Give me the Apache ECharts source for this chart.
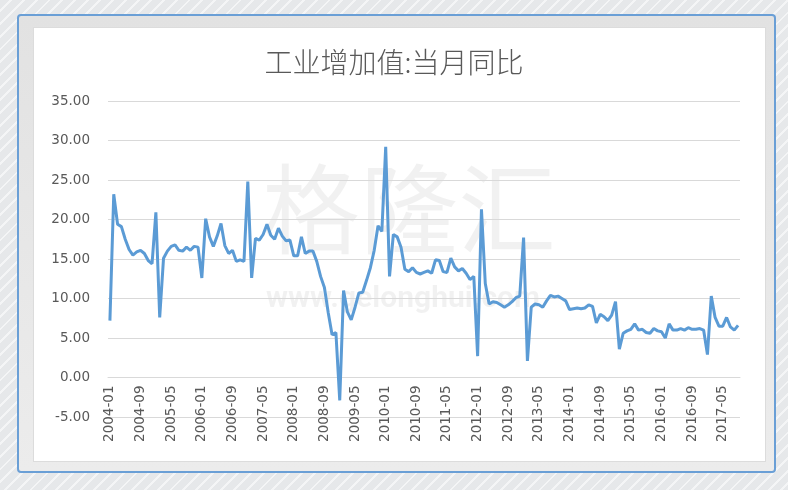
<!DOCTYPE html>
<html>
<head>
<meta charset="utf-8">
<script src="https://cdn.jsdelivr.net/npm/echarts@6/dist/echarts.min.js"></script>
<style>
  html, body { margin: 0; padding: 0; }
  body {
    width: 788px; height: 490px; position: relative; overflow: hidden;
    background: repeating-linear-gradient(135deg, #e6e8ea 0px, #e6e8ea 7px, #f4f5f6 7px, #f4f5f6 9px);
  }
  .frame {
    position: absolute; left: 17px; top: 14px; width: 755px; height: 455px;
    border: 2px solid #6a9fd6; border-radius: 4px;
    background: linear-gradient(#e2e2e2, #ececec);
  }
  .inner {
    position: absolute; left: 33px; top: 27px; width: 733px; height: 435px;
    background: #fff; border: 1px solid #dcdcdc; box-sizing: border-box;
  }
  #chart { position: absolute; left: 0; top: 0; width: 788px; height: 490px; }
</style>
</head>
<body>
<div class="frame"></div>
<div class="inner"></div>
<div id="chart"></div>
<script>
// monthly yoy values, 2004-01 .. 2017-09
const years = [2004, 2005, 2006, 2007, 2008, 2009, 2010, 2011, 2012, 2013, 2014, 2015, 2016, 2017];
const v2004 = [7.2, 23.2, 19.4, 19.1, 17.5, 16.2, 15.5, 15.9, 16.1, 15.7, 14.8, 14.4];
const v2005 = [20.9, 7.6, 15.1, 16.0, 16.6, 16.8, 16.1, 16.0, 16.5, 16.1, 16.6, 16.5];
const v2006 = [12.6, 20.1, 17.8, 16.6, 17.9, 19.5, 16.7, 15.7, 16.1, 14.7, 14.9, 14.7];
const v2007 = [24.8, 12.6, 17.6, 17.4, 18.1, 19.4, 18.0, 17.5, 18.9, 17.9, 17.3, 17.4];
const v2008 = [15.4, 15.4, 17.8, 15.7, 16.0, 16.0, 14.7, 12.8, 11.4, 8.2, 5.4, 5.7];
const v2009 = [-2.9, 11.0, 8.3, 7.3, 8.9, 10.7, 10.8, 12.3, 13.9, 16.1, 19.2, 18.5];
const v2010 = [29.2, 12.8, 18.1, 17.8, 16.5, 13.7, 13.4, 13.9, 13.3, 13.1, 13.3, 13.5];
const v2011 = [13.2, 14.9, 14.8, 13.4, 13.3, 15.1, 14.0, 13.5, 13.8, 13.2, 12.4, 12.8];
const v2012 = [2.7, 21.3, 11.9, 9.3, 9.6, 9.5, 9.2, 8.9, 9.2, 9.6, 10.1, 10.3];
const v2013 = [17.7, 2.1, 8.9, 9.3, 9.2, 8.9, 9.7, 10.4, 10.2, 10.3, 10.0, 9.7];
const v2014 = [8.6, 8.7, 8.8, 8.7, 8.8, 9.2, 9.0, 6.9, 8.0, 7.7, 7.2, 7.9];
const v2015 = [9.6, 3.6, 5.6, 5.9, 6.1, 6.8, 6.0, 6.1, 5.7, 5.6, 6.2, 5.9];
const v2016 = [5.8, 5.0, 6.8, 6.0, 6.0, 6.2, 6.0, 6.3, 6.1, 6.1, 6.2, 6.0];
const v2017 = [2.9, 10.3, 7.6, 6.5, 6.5, 7.6, 6.4, 6.0, 6.6];
const yTicks = [-5, 0, 5, 10, 15, 20, 25, 30, 35];

const values = [].concat(v2004, v2005, v2006, v2007, v2008, v2009, v2010,
  v2011, v2012, v2013, v2014, v2015, v2016, v2017);
const months = [];
years.forEach((y) => {
  for (let m = 1; m <= 12; m++) {
    if (months.length < values.length) months.push(y + "-" + String(m).padStart(2, "0"));
  }
});

const chart = echarts.init(document.getElementById("chart"));
const labelColor = "#595959";
const gridTop = 101;
const gridBottom = 417;
// x axis sits on the 0 line, not at the bottom of the grid
const zeroY = gridTop + (gridBottom - gridTop) * yTicks[yTicks.length - 1] / (yTicks[yTicks.length - 1] - yTicks[0]);

chart.setOption({
  animation: false,
  title: {
    text: "工业增加值:当月同比",
    left: "center",
    top: 43,
    textStyle: {
      fontFamily: "Noto Sans CJK SC",
      fontSize: 28,
      fontWeight: 300,
      color: "#595959",
    },
  },
  graphic: [
    {
      type: "text", left: 262, top: 160, z: -1, silent: true,
      style: { text: "格隆汇", fontFamily: "Noto Sans CJK SC", fontSize: 98, fill: "rgba(0,0,0,0.055)" },
    },
    {
      type: "text", left: 266, top: 284, z: -1, silent: true,
      style: { text: "www.gelonghui.com", fontFamily: "Roboto", fontWeight: "bold", fontSize: 30, fill: "rgba(0,0,0,0.055)" },
    },
  ],
  grid: { left: 108, right: 48, top: gridTop, bottom: 490 - gridBottom },
  xAxis: {
    type: "category",
    data: months,
    boundaryGap: true,
    offset: zeroY - gridBottom,
    axisLine: { onZero: false, lineStyle: { color: "#d9d9d9" } },
    axisTick: { alignWithLabel: true, interval: 7, length: 5, lineStyle: { color: "#d9d9d9" } },
    axisLabel: {
      interval: 7,
      rotate: 90,
      margin: 8,
      color: labelColor,
      fontFamily: "DejaVu Sans",
      fontSize: 13.5,
    },
  },
  yAxis: {
    type: "value",
    min: yTicks[0],
    max: yTicks[yTicks.length - 1],
    interval: 5,
    axisLine: { show: false },
    axisTick: { show: false },
    splitLine: { lineStyle: { color: "#d9d9d9" } },
    axisLabel: {
      color: labelColor,
      fontFamily: "DejaVu Sans",
      fontSize: 13.5,
      margin: 18,
      formatter: (v) => v.toFixed(2),
    },
  },
  series: [
    {
      type: "line",
      data: values,
      symbol: "none",
      lineStyle: { color: "#5b9bd5", width: 3 },
      z: 3,
    },
  ],
});
</script>
</body>
</html>
